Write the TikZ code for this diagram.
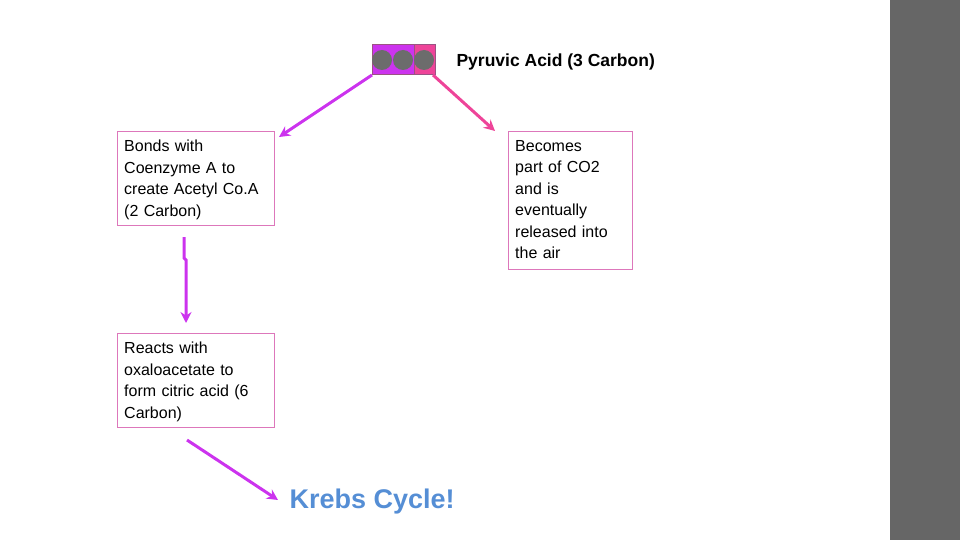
\documentclass[tikz,border=0pt]{standalone}
\usepackage{fontspec}
\setmainfont{Liberation Sans}
\usetikzlibrary{arrows.meta}
\definecolor{mag}{HTML}{CC33EE}
\definecolor{pnk}{HTML}{EE4499}
\definecolor{bdr}{HTML}{DD77BB}
\definecolor{gbar}{HTML}{666666}
\definecolor{kblue}{HTML}{558ED5}
\begin{document}
\begin{tikzpicture}[x=1pt,y=-1pt,
  box/.style={align=left,anchor=north west,inner sep=0pt,
    font=\fontsize{16}{21.5}\selectfont,text width=#1},
  frame/.style={draw=bdr,line width=0.8pt},
  arr/.style={line width=3pt,-{Stealth[length=11pt,width=11pt]}}]
\useasboundingbox (0,0) rectangle (960,540);
\fill[gbar] (890,0) rectangle (960,540);
\fill[mag] (372,45) rectangle (414,75);
\fill[pnk] (414,45) rectangle (435,75);
\draw[bdr!70!black,line width=1pt] (372,45) rectangle (435,75) (414,45) -- (414,75);
\foreach \x in {382,403,424}{\fill[gray!85!black] (\x,60) circle (10);}
\coordinate (ml) at (372,75);
\coordinate (mr) at (433,75);
\node[anchor=west,font=\bfseries\fontsize{17.5}{20}\selectfont] (pa) at (453,62) {Pyruvic Acid (3 Carbon)};
\draw[frame] (117,131) rectangle (274,225);
\node[box=150pt] (b1) at (124,140) {Bonds with\\Coenzyme A to\\create Acetyl Co.A\\(2 Carbon)};
\draw[frame] (508,131) rectangle (632,269);
\node[box=115pt] (b2) at (515,140) {Becomes\\part of CO2\\and is\\eventually\\released into\\the air};
\draw[frame] (117,333) rectangle (274,427);
\node[box=150pt] (b3) at (124,342) {Reacts with\\oxaloacetate to\\form citric acid (6\\Carbon)};
\node[anchor=west,font=\bfseries\fontsize{27}{30}\selectfont,text=kblue] (kc) at (286,502) {Krebs Cycle!};
\coordinate (t1) at (279,137);
\coordinate (t2) at (495,131);
\coordinate (s3) at (184,237);
\coordinate (t3) at (186,323);
\coordinate (s4) at (187,440);
\coordinate (t4) at (278,500);
\draw[arr,mag] (ml) -- (t1);
\draw[arr,pnk] (mr) -- (t2);
\draw[arr,mag] (s3) -- (184,258) -- (186,260) -- (t3);
\draw[arr,mag] (s4) -- (t4);
\end{tikzpicture}
\end{document}
